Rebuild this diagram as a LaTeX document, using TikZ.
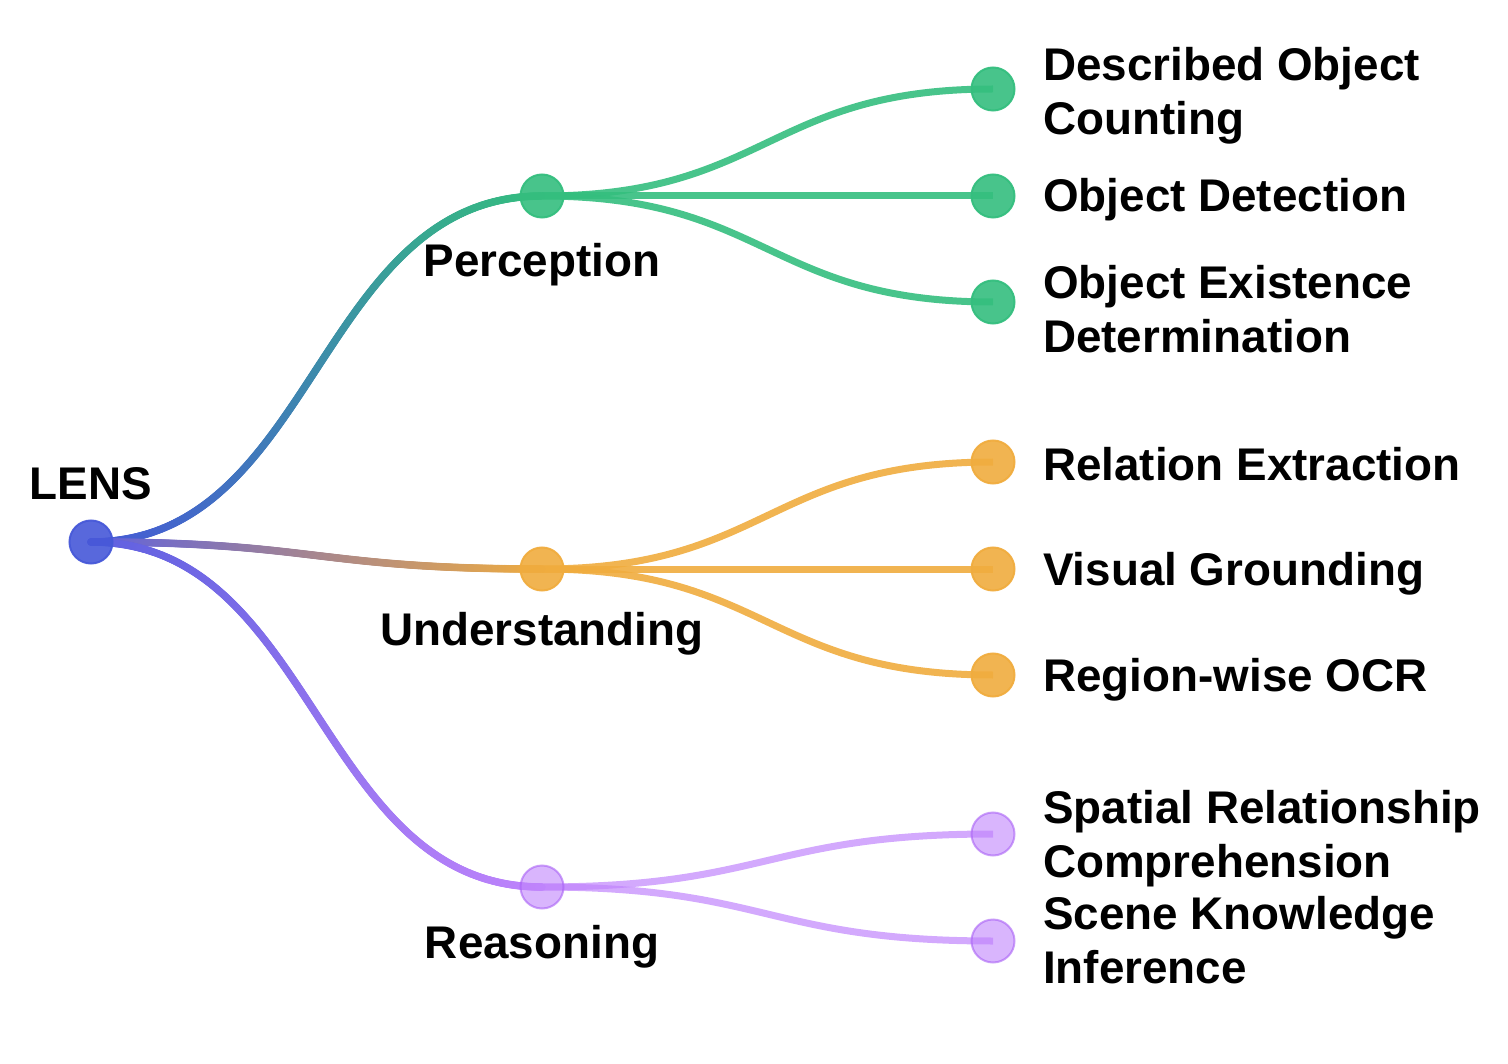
\documentclass[tikz,border=0pt]{standalone}
\usepackage{fontspec}
\setmainfont{Liberation Sans}
\usetikzlibrary{decorations.markings}
\pgfdeclarelayer{bg}
\pgfsetlayers{bg,main}
\definecolor{cBlue}{HTML}{4658D8}
\definecolor{cGreen}{HTML}{34BE7E}
\definecolor{cOrange}{HTML}{F0AC3E}
\definecolor{cPurple}{HTML}{C084FC}
\definecolor{cPurpleDark}{HTML}{A961F5}
\tikzset{
  dotnode/.style={circle, minimum size=43pt, inner sep=0pt, fill=#1, fill opacity=0.9, draw=#1, draw opacity=0.95, line width=2pt},
  purpledot/.style={dotnode=cPurple, fill opacity=0.6, draw=cPurpleDark, draw opacity=0.6},
  leafedge/.style={draw=#1, line width=7pt, draw opacity=0.9},
  lbl/.style={font=\fontsize{45.8}{54}\selectfont\bfseries, text=black, inner sep=0pt, align=left},
  gradedge/.style 2 args={decorate, decoration={markings,
      mark=between positions 0 and 1 step 0.8pt with {%
        \pgfmathsetmacro\gpc{100-\pgfkeysvalueof{/pgf/decoration/mark info/distance from start}/\pgfdecoratedpathlength*100}%
        \fill[#1!\gpc!#2] (0,0) circle (3.8pt);}}},
}
\begin{document}
\begin{tikzpicture}[x=1pt,y=-1pt]
\useasboundingbox (0,0) rectangle (1508,1064);
% hub nodes
\node[dotnode=cBlue] (lens) at (91,542) {};
\node[dotnode=cGreen] (perc) at (542,196) {};
\node[dotnode=cOrange] (und) at (542,569) {};
\node[purpledot] (reas) at (542,887) {};
% leaves
\node[dotnode=cGreen] (l1) at (993,89) {};
\node[dotnode=cGreen] (l2) at (993,196) {};
\node[dotnode=cGreen] (l3) at (993,302) {};
\node[dotnode=cOrange] (l4) at (993,462) {};
\node[dotnode=cOrange] (l5) at (993,569) {};
\node[dotnode=cOrange] (l6) at (993,675) {};
\node[purpledot] (l7) at (993,834) {};
\node[purpledot] (l8) at (993,941) {};
% labels
\node[lbl, anchor=base] (tlens) at (91,500) {LENS};
\node[lbl, anchor=base] (tperc) at (542,277) {Perception};
\node[lbl, anchor=base] (tund) at (542,645) {Understanding};
\node[lbl, anchor=base] (treas) at (542,958) {Reasoning};
\node[lbl, anchor=base west] (t1) at (1043,135) {Described Object\\Counting};
\node[lbl, anchor=base west] (t2) at (1043,212) {Object Detection};
\node[lbl, anchor=base west] (t3) at (1043,353) {Object Existence\\Determination};
\node[lbl, anchor=base west] (t4) at (1043,480) {Relation Extraction};
\node[lbl, anchor=base west] (t5) at (1043,585) {Visual Grounding};
\node[lbl, anchor=base west] (t6) at (1043,691) {Region-wise OCR};
\node[lbl, anchor=base west] (t7) at (1043,877) {Spatial Relationship\\Comprehension};
\node[lbl, anchor=base west] (t8) at (1043,983) {Scene Knowledge\\Inference};
% edges
\begin{pgfonlayer}{bg}
\path[gradedge={cBlue}{cGreen}] (lens.center) .. controls +(225,0) and +(-225,0) .. (perc.center);
\path[gradedge={cBlue!80!cPurple}{cOrange}] (lens.center) .. controls +(225,0) and +(-225,0) .. (und.center);
\path[gradedge={cBlue!80!cPurple}{cPurple}] (lens.center) .. controls +(225,0) and +(-225,0) .. (reas.center);
\draw[leafedge=cGreen] (perc.center) .. controls +(225,0) and +(-225,0) .. (l1.center);
\draw[leafedge=cGreen] (perc.center) -- (l2.center);
\draw[leafedge=cGreen] (perc.center) .. controls +(225,0) and +(-225,0) .. (l3.center);
\draw[leafedge=cOrange] (und.center) .. controls +(225,0) and +(-225,0) .. (l4.center);
\draw[leafedge=cOrange] (und.center) -- (l5.center);
\draw[leafedge=cOrange] (und.center) .. controls +(225,0) and +(-225,0) .. (l6.center);
\draw[leafedge=cPurple, draw opacity=0.7] (reas.center) .. controls +(225,0) and +(-225,0) .. (l7.center);
\draw[leafedge=cPurple, draw opacity=0.7] (reas.center) .. controls +(225,0) and +(-225,0) .. (l8.center);
\end{pgfonlayer}
\end{tikzpicture}
\end{document}
